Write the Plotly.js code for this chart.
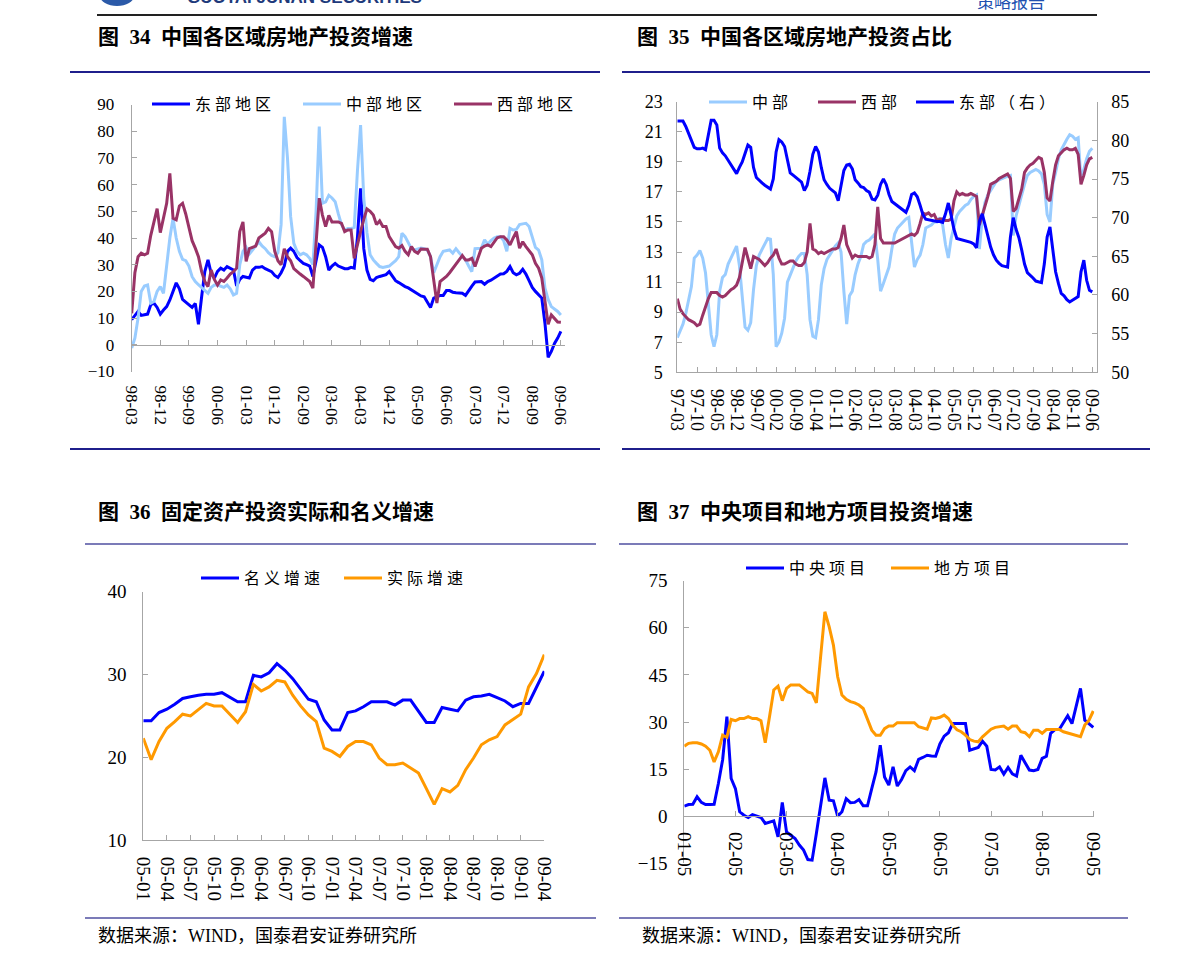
<!DOCTYPE html>
<html><head><meta charset="utf-8">
<script src="https://cdn.plot.ly/plotly-3.0.1.min.js"></script>
<style>html,body{margin:0;padding:0;background:#fff;}#chart{width:1190px;height:966px;}</style>
</head><body><div id="chart"></div>
<script>
// ---------------- DATA ----------------
// Fig 34: regional real-estate investment growth (%), monthly 98-03 .. 09-06
const start34 = '98-03', end34 = '09-06';
const ticks34 = ['98-03','98-12','99-09','00-06','01-03','01-12','02-09','03-06','04-03','04-12','05-09','06-06','07-03','07-12','08-09','09-06'];
const east34 = [
 9.4,11,12.5,11,11.2,11.5,15,15.6,14,11.5,
 13,14.3,16.8,20,23.2,21,17,16,15,14,
 15.5,7.7,18,27.4,31.8,26.8,25,27.5,28.7,28,
 29.3,28.7,28,22,24.5,25.6,25.3,25,28,29,
 29,29.3,28.5,28,27.4,26,25.2,27,29.5,35,
 36.2,35,32.7,31.5,30.5,30,29.5,25.6,32,37.4,
 36.5,33,28,29.5,30.5,29.5,29,28.5,28.5,29,
 28.7,40,58.6,36,28,24.5,24,25.2,25.6,26,
 26.3,27.4,25.5,24,23.3,22.5,21.8,21.3,20.5,19.8,
 19,18.3,18,16,14,17.5,18,18.5,18.5,20.3,
 20.3,19.7,19.5,19.4,19.3,18.5,20.5,22,23.5,23.7,
 23.7,22.7,23.7,24.2,25,26,26.5,26.6,27.5,29.3,
 27,26.2,26.8,28.3,26.5,24,21.5,20,18.8,17.5,
 8,-4.7,-2.5,0.5,2.5,5];
const central34 = [
 -1.2,2.5,10,20,22,22.4,15.6,16.2,20,21.8,
 19.3,30,40,47.4,40,35,32,31.5,29.5,25.5,
 23.7,22.5,21.5,20.5,19.3,21.5,22.4,22.4,22,21.5,
 22.4,21,18.7,19.3,30,35,36.5,34,35.5,37,
 38.6,37,36,34.5,33.5,33,34.5,45,85.4,70,
 48,38,35,33.7,34.3,33.7,32.4,30,50,81.7,
 53,53.5,56,55,53.6,49,45,43,43.6,43.6,
 44,65,82.3,55,42,33.7,31.8,30.5,29.3,29,
 29.3,29.5,30.5,31.5,33,41.8,40.5,38,36,35.5,
 35.8,36.2,36,35.5,33,27,30,33,35,35.3,
 35.5,34.3,36,34.5,33,31.8,29.5,27.4,36,36.2,
 36.2,39.3,37.7,39,40,40.5,40.5,39,35,43.6,
 43,43.2,45,45.3,45.5,44.3,40,36.5,35.5,31.8,
 21.2,17,14.3,13.5,12.5,11.2];
const west34 = [
 11.8,27,33,34.3,33.7,34.3,41,46.5,51,42,
 47,53,64.2,47.4,46.8,52,53,49,44,39,
 36.2,33,27.4,23.7,21.8,28,24.5,22.4,24.3,23.7,
 25,26.5,27.4,28.7,42.4,46,31.2,36,36.5,37,
 40,41,41.8,43.6,42.4,35,31.5,30,36,33,
 31.5,28.5,27.4,26.5,25.6,24.5,23.7,21.2,40,54.9,
 48.6,44.3,48.5,46,46,46,45.5,42.4,43,43,
 32.4,38,42.4,47,50.9,50,48.6,45,46.4,44.3,
 44.3,40.5,38.5,36.8,36.2,37.2,35,33.7,36.8,35,
 34.3,35.9,35.8,35.8,33,24,15.6,23.7,24.5,25.6,
 27,28.7,30.5,31.8,33.4,31.8,31.8,32.4,29.3,33,
 36.2,37,37.4,36.8,38.6,40.1,40.5,40.5,39.3,37.4,
 40,42.4,36.2,38.6,36.8,35,33.7,30.5,28.7,25,
 16.2,7.7,11.2,10,8.5,8.4];

// Fig 35: regional share of real-estate investment (%), monthly 97-03 .. 09-06
const start35 = '97-03', end35 = '09-06';
const ticks35 = ['97-03','97-10','98-05','98-12','99-07','00-02','00-09','01-04','01-11','02-06','03-01','03-08','04-03','04-10','05-05','05-12','06-07','07-02','07-09','08-04','08-11','09-06'];
const central35 = [
 7.3,7.8,8.2,8.9,9.8,10.7,12.6,12.8,13.1,12.6,
 11.6,9.5,7.5,6.7,7.5,10.4,11.3,11.5,12.2,12.6,
 13,13.4,12.1,9.8,8,7.8,8.3,10.5,12.1,12.8,
 13.2,13.5,13.9,13.85,11.5,6.7,7,7.6,8.6,11,
 11.5,11.9,12.4,12.7,12.9,12.9,11.5,8.5,7.4,7.3,
 8.5,10.8,11.9,12.5,12.8,13.1,13.4,13.6,13,10.4,
 8.2,10.1,10.4,11.5,12.2,12.7,13.5,13.7,13.8,14,
 14.2,12.5,10.4,10.9,11.4,12,13.2,14.2,14.6,14.8,
 15,15.2,15.3,13.5,12,12.5,12.8,13.5,14.6,14.7,
 14.8,15,15,15.3,14.8,13.5,12.6,13.9,14.7,15.4,
 15.7,15.9,16.1,16.2,16.5,16.7,16.8,13.2,15.2,16.3,
 16.8,17.1,17.4,17.7,17.8,17.9,18,18.05,18.1,14.1,
 15.4,16.2,16.8,17.5,18.1,18.3,18.4,18.5,18.4,18.2,
 17.5,15.5,15,17.5,18.3,19.2,19.8,20.2,20.5,20.8,
 20.7,20.5,20.6,17.8,18.5,19.2,19.7,19.9];
const west35 = [
 9.9,9.2,8.9,8.7,8.5,8.4,8.3,8.1,8.2,8.8,
 9.4,9.9,10.3,10.3,10.3,10.1,10,10.1,10.3,10.5,
 10.6,10.8,11.3,12.2,13.3,12.6,11.9,12.7,12.6,12.5,
 12.3,12.1,12.3,12.6,12.8,13.2,12.6,12.2,12.2,12.3,
 12.4,12.4,12.2,12.1,12.1,12.3,13,14.9,13.2,13.1,
 12.9,13,12.9,13,13.1,13.2,13.2,13.3,13.9,14.8,
 13.5,13,12.6,12.8,12.7,12.7,12.7,12.7,12.6,12.7,
 13.5,16,13.9,13.6,13.6,13.6,13.6,13.6,13.7,13.8,
 13.9,14,14.1,14.2,14.1,14.3,14.9,15.6,15.5,15.6,
 15.4,15.5,15.1,15.2,15.2,15.1,15.1,15.2,16.4,17,
 16.8,16.9,16.8,16.8,16.9,16.8,16.7,14.8,15.4,16,
 16.7,17.5,17.6,17.7,17.9,18,18.1,18.2,17.9,15.7,
 15.9,16.5,17.2,18.3,18.6,18.8,18.9,19.1,19.3,19.2,
 18.3,16.6,16.4,17.7,18.8,19.4,19.6,19.8,19.9,19.8,
 19.8,19.9,19.5,17.5,18.1,18.8,19.2,19.3];
const east35 = [
 82.5,82.5,82.5,81.8,81,80,79.1,78.9,78.9,79,
 78.8,80.5,82.6,82.6,82,79,78.4,78,77.4,76.9,
 76.3,75.7,76.5,77.2,78.3,79.4,79.1,76.5,75.2,74.8,
 74.5,74.2,74,73.7,75,78.5,80.1,79.8,79.2,77.5,
 75.8,75.5,75.2,74.8,74.6,73.5,74.2,76,78.2,79.2,
 78.5,76.5,74.9,74.3,73.8,73.5,73.2,72.2,74.2,76.1,
 76.8,76.9,76.3,74.9,74.5,74,73.9,73.5,73.3,72.4,
 72.3,72.9,74.3,75,74.3,73,72.1,71.8,71.5,71.3,
 71,70.7,71.6,73,73.2,72.7,71.6,70.4,69.8,69.7,
 69.6,69.6,69.5,69.5,69.4,70.5,71.9,70.3,68.5,67.3,
 67.2,67.1,67,66.9,66.8,66.6,66.1,69.5,70.5,69.1,
 67.5,66.2,65.2,64.5,64.1,63.8,63.7,63.6,67.5,70,
 68.5,67.4,65.8,64,62.9,62.6,62.2,61.8,61.7,61.6,
 64,67.5,68.8,66,63,61.5,60.2,59.9,59.4,59.1,
 59.3,59.5,59.8,63,64.5,61.9,60.6,60.4];

// Fig 36: fixed-asset investment growth, nominal vs real (%), monthly 05-01 .. 09-04
const start36 = '05-01', end36 = '09-04';
const ticks36 = ['05-01','05-04','05-07','05-10','06-01','06-04','06-07','06-10','07-01','07-04','07-07','07-10','08-01','08-04','08-07','08-10','09-01','09-04'];
const nominal36 = [
 24.4,24.4,25.4,25.8,26.4,27.1,27.3,27.5,27.6,27.6,
 27.8,27.2,26.7,26.7,29.9,29.7,30.2,31.3,30.5,29.5,
 28.3,27,26.7,24.5,23.3,23.3,25.4,25.6,26.1,26.7,
 26.7,26.7,26.3,26.9,26.9,25.5,24.2,24.2,26,25.8,
 25.6,26.9,27.3,27.4,27.6,27.2,26.8,26.1,26.5,26.5,
 28.5,30.4];
const real36 = [
 22.3,19.7,21.9,23.5,24.3,25.2,25,25.7,26.5,26.2,
 26.2,25.2,24.2,25.5,28.8,28,28.5,29.3,29.1,27.5,
 26.2,25.1,24.3,21.1,20.7,20.1,21.3,21.9,21.9,21.5,
 19.9,19.1,19.1,19.3,18.7,18.1,16.2,14.3,16.2,15.8,
 16.6,18.5,19.9,21.5,22.1,22.5,23.9,24.6,25.2,28.5,
 30.1,32.4];

// Fig 37: central vs local project investment growth (%), monthly 01-05 .. 09-05
const start37 = '01-05', end37 = '09-05';
const ticks37 = ['01-05','02-05','03-05','04-05','05-05','06-05','07-05','08-05','09-05'];
const central37 = [
 3.2,3.7,3.8,6.2,4.4,3.7,3.7,3.8,10.4,18,
 31.7,12,8.8,1.4,0.3,-0.4,0.5,0.1,-0.4,-2.3,
 -1.8,-1.5,-6.6,4.4,-5,-6,-7.1,-9.2,-10.8,-13.8,
 -14,-5.5,3,12.2,5.1,4.9,0,1.4,5.6,4.3,
 4.4,5.3,3.3,3.3,8.8,14.1,22.6,12.5,9.9,15.7,
 9.6,11.7,14.5,15.7,14.5,18.1,18.7,19.4,19.2,19.1,
 23,25.5,26.6,29.5,29.5,29.5,29.5,21,21.5,21.9,
 23.9,22.3,14.9,14.7,15.7,13.4,15.5,13.5,12.8,19.4,
 17,14.7,14.5,14.9,18.4,19.1,26.4,27.6,27.6,29.8,
 32,29.5,35,40.7,30.6,29.5,28.3];
const local37 = [
 22.3,23.2,23.4,23.4,23,22.3,21,17.3,20.5,25.8,
 25.1,30.8,30.4,31.1,31.1,31.7,31.1,31.1,30.4,23.4,
 31.7,40.2,41.4,36.8,40.7,41.8,41.8,41.8,40.7,39.6,
 39.1,36.1,50.8,65.1,60.4,54.5,44.4,38.6,37.2,36.5,
 36.1,35.4,34.3,30.8,27.4,25.8,25.8,27.9,28.7,28.7,
 29.8,29.8,29.8,29.8,29.8,28.5,28,27.7,31.3,31.1,
 31.5,32.2,31.1,29,27.5,26.9,25.8,24.4,23.9,23.7,
 25.3,26.4,27.7,28.3,28.5,28.7,27.7,28.7,28.7,26.9,
 26.6,25.3,27.4,27.4,26.4,27.6,27.6,27.6,27.6,26.9,
 26.5,26,25.6,25.3,29,30.6,33.5];

// ---------------- HELPERS ----------------
const W = 1190, H = 966;
const fx = p => p / W, fy = p => 1 - p / H;
const SERIF = '"Liberation Serif","Times New Roman","Noto Sans CJK SC",serif';
const GRAY = '#A6A6A6';
const BLUE = '#0000FF', LBLUE = '#99CCFF', PLUM = '#993366', ORANGE = '#FF9900';

function ym(l){ const p = l.split('-').map(Number); return (p[0] >= 50 ? 1900 + p[0] : 2000 + p[0]) * 12 + (p[1] - 1); }
function monthRange(s, e){ const out = []; for (let k = ym(s); k <= ym(e); k++){ const y = Math.floor(k / 12) % 100, m = k % 12 + 1; out.push(String(y).padStart(2,'0') + '-' + String(m).padStart(2,'0')); } return out; }
function pos(labels, s){ return labels.map(l => ym(l) - ym(s)); }

const months34 = monthRange(start34, end34), months35 = monthRange(start35, end35);
const months36 = monthRange(start36, end36), months37 = monthRange(start37, end37);

function line(x, y, name, color, xa, ya, lg){
  return {type:'scatter', mode:'lines', x:x, y:y, name:name, xaxis:xa, yaxis:ya, legend:lg,
          line:{color:color, width:3}, hoverinfo:'skip'};
}

const data = [
  line(pos(months34,start34), east34, '东 部 地 区', BLUE, 'x','y','legend'),
  line(pos(months34,start34), central34, '中 部 地 区', LBLUE, 'x','y','legend'),
  line(pos(months34,start34), west34, '西 部 地 区', PLUM, 'x','y','legend'),
  line(pos(months35,start35), central35, '中 部', LBLUE, 'x2','y2','legend2'),
  line(pos(months35,start35), west35, '西 部', PLUM, 'x2','y2','legend2'),
  line(pos(months35,start35), east35, '东 部 （ 右 ）', BLUE, 'x2','y3','legend5'),
  line(pos(months36,start36), nominal36, '名 义 增 速', BLUE, 'x3','y4','legend3'),
  line(pos(months36,start36), real36, '实 际 增 速', ORANGE, 'x3','y4','legend3'),
  line(pos(months37,start37), central37, '中 央 项 目', BLUE, 'x4','y5','legend4'),
  line(pos(months37,start37), local37, '地 方 项 目', ORANGE, 'x4','y5','legend4')
];

function xAxis(o){
  return Object.assign({showline:true, linecolor:GRAY, linewidth:1, ticks:'inside', ticklen:5, tickcolor:GRAY,
    tickmode:'array', tickangle:90, showgrid:false, zeroline:false, fixedrange:true,
    tickfont:{family:SERIF, size:17, color:'#000'}}, o);
}
function yAxis(o){
  return Object.assign({showline:true, linecolor:GRAY, linewidth:1, ticks:'inside', ticklen:5, tickcolor:GRAY,
    showgrid:false, zeroline:false, fixedrange:true, ticklabelstandoff:8,
    tickfont:{family:SERIF, size:17, color:'#000'}}, o);
}
function legend(x, y, w){
  const o = {x:fx(x), y:fy(y), xanchor:'left', yanchor:'middle', orientation:'h', bgcolor:'rgba(0,0,0,0)',
          font:{family:SERIF, size:16, color:'#000'}, itemwidth:38, itemclick:false, itemdoubleclick:false};
  if (w) { o.entrywidth = w; o.entrywidthmode = 'pixels'; }
  return o;
}

const layout = {
  width: W, height: H, margin:{l:0,r:0,t:0,b:0}, paper_bgcolor:'#fff', plot_bgcolor:'rgba(0,0,0,0)',
  showlegend:true,
  xaxis: xAxis({domain:[fx(131.7), fx(565)], range:[0,136.3], anchor:'free', position:fy(345),
    tickvals:pos(ticks34,start34), ticktext:ticks34, ticklabelstandoff:36}),
  yaxis: yAxis({domain:[fy(371.5), fy(104.5)], range:[-10,90], dtick:10, tick0:0, anchor:'x', ticklabelstandoff:13}),
  xaxis2: xAxis({domain:[fx(677.3), fx(1096.7)], range:[0,148.56], anchor:'y2',
    tickvals:pos(ticks35,start35), ticktext:ticks35, ticklabelstandoff:12, tickfont:{family:SERIF,size:18,color:'#000'}}),
  yaxis2: yAxis({domain:[fy(372.3), fy(101.7)], range:[5,23], dtick:2, tick0:5, anchor:'x2', ticklabelstandoff:10, tickfont:{family:SERIF,size:18,color:'#000'}}),
  yaxis3: yAxis({overlaying:'y2', side:'right', anchor:'x2', range:[50,85], dtick:5, tick0:50, ticklabelstandoff:10, tickfont:{family:SERIF,size:18,color:'#000'}}),
  xaxis3: xAxis({domain:[fx(143.3), fx(544.3)], range:[0,51], anchor:'y4',
    tickvals:pos(ticks36,start36), ticktext:ticks36, ticklabelstandoff:12, tickfont:{family:SERIF,size:19,color:'#000'}}),
  yaxis4: yAxis({domain:[fy(840), fy(591.7)], range:[10,40], dtick:10, tick0:10, anchor:'x3', ticklabelstandoff:12, tickfont:{family:SERIF,size:19,color:'#000'}}),
  xaxis4: xAxis({domain:[fx(684.3), fx(1094.3)], range:[0,96.24], anchor:'free', position:fy(816.2),
    tickvals:pos(ticks37,start37), ticktext:ticks37, ticklabelstandoff:11, tickfont:{family:SERIF,size:19,color:'#000'}}),
  yaxis5: yAxis({domain:[fy(863.3), fy(580.7)], range:[-15,75], dtick:15, tick0:-15, anchor:'x4', ticklabelstandoff:12, tickfont:{family:SERIF,size:19,color:'#000'}}),
  legend:  legend(147, 104, 98),
  legend2: legend(704, 102, 56),
  legend5: legend(911, 102, 0),
  legend3: legend(196, 578, 90),
  legend4: legend(741, 568, 92),
  shapes: [
    {type:'line', xref:'paper', yref:'paper', x0:fx(97), x1:fx(1097), y0:fy(15), y1:fy(15), line:{color:'#222', width:2}},
    {type:'line', xref:'paper', yref:'paper', x0:fx(70), x1:fx(600), y0:fy(72), y1:fy(72), line:{color:'#1F1F8C', width:2}},
    {type:'line', xref:'paper', yref:'paper', x0:fx(622), x1:fx(1150), y0:fy(72), y1:fy(72), line:{color:'#1F1F8C', width:2}},
    {type:'line', xref:'paper', yref:'paper', x0:fx(70), x1:fx(600), y0:fy(449), y1:fy(449), line:{color:'#1F1F8C', width:2}},
    {type:'line', xref:'paper', yref:'paper', x0:fx(622), x1:fx(1150), y0:fy(449), y1:fy(449), line:{color:'#1F1F8C', width:2}},
    {type:'line', xref:'paper', yref:'paper', x0:fx(85), x1:fx(596), y0:fy(544), y1:fy(544), line:{color:'#7B7BB8', width:2}},
    {type:'line', xref:'paper', yref:'paper', x0:fx(619), x1:fx(1128), y0:fy(544), y1:fy(544), line:{color:'#7B7BB8', width:2}},
    {type:'line', xref:'paper', yref:'paper', x0:fx(85), x1:fx(596), y0:fy(918), y1:fy(918), line:{color:'#7B7BB8', width:2}},
    {type:'line', xref:'paper', yref:'paper', x0:fx(619), x1:fx(1128), y0:fy(918), y1:fy(918), line:{color:'#7B7BB8', width:2}},
    {type:'circle', xref:'paper', yref:'paper', x0:fx(100), x1:fx(134), y0:fy(6), y1:fy(-14), fillcolor:'#2B5AA8', line:{width:0}}
  ],
  annotations: [
    {text:'<b>GUOTAI JUNAN SECURITIES</b>', x:fx(185), y:fy(-2), xref:'paper', yref:'paper', xanchor:'left', yanchor:'middle', showarrow:false,
     font:{family:'"Liberation Sans",Arial,sans-serif', size:17, color:'#1E3A7B'}},
    {text:'策略报告', x:fx(975), y:fy(0), xref:'paper', yref:'paper', xanchor:'left', yanchor:'middle', showarrow:false,
     font:{family:'"Noto Sans CJK SC",sans-serif', size:17, color:'#2050B0'}},
    {text:'<b>图\u200234\u2002中国各区域房地产投资增速</b>', x:fx(96), y:fy(37), xref:'paper', yref:'paper', xanchor:'left', yanchor:'middle', showarrow:false,
     font:{family:SERIF, size:21, color:'#000'}},
    {text:'<b>图\u200235\u2002中国各区域房地产投资占比</b>', x:fx(635), y:fy(37), xref:'paper', yref:'paper', xanchor:'left', yanchor:'middle', showarrow:false,
     font:{family:SERIF, size:21, color:'#000'}},
    {text:'<b>图\u200236\u2002固定资产投资实际和名义增速</b>', x:fx(96), y:fy(512), xref:'paper', yref:'paper', xanchor:'left', yanchor:'middle', showarrow:false,
     font:{family:SERIF, size:21, color:'#000'}},
    {text:'<b>图\u200237\u2002中央项目和地方项目投资增速</b>', x:fx(635), y:fy(512), xref:'paper', yref:'paper', xanchor:'left', yanchor:'middle', showarrow:false,
     font:{family:SERIF, size:21, color:'#000'}},
    {text:'数据来源：WIND，国泰君安证券研究所', x:fx(96), y:fy(936), xref:'paper', yref:'paper', xanchor:'left', yanchor:'middle', showarrow:false,
     font:{family:SERIF, size:18, color:'#000'}},
    {text:'数据来源：WIND，国泰君安证券研究所', x:fx(640), y:fy(936), xref:'paper', yref:'paper', xanchor:'left', yanchor:'middle', showarrow:false,
     font:{family:SERIF, size:18, color:'#000'}}
  ]
};

Plotly.newPlot('chart', data, layout, {displayModeBar:false, staticPlot:true});
</script></body></html>
